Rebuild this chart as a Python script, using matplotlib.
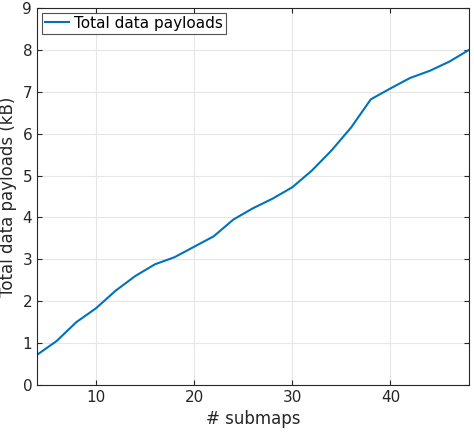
import matplotlib.pyplot as plt

submaps = [4, 6, 8, 10, 12, 14, 16, 18, 20, 22, 24, 26, 28, 30, 32, 34, 36, 38, 40, 42, 44, 46, 48]
payload_kb = [0.72, 1.05, 1.5, 1.83, 2.25, 2.6, 2.88, 3.05, 3.3, 3.55, 3.95, 4.22, 4.45, 4.72,
              5.12, 5.6, 6.15, 6.82, 7.08, 7.33, 7.5, 7.72, 8.0]

fig = plt.figure(figsize=(4.74, 4.38), dpi=100)
ax = fig.add_axes([37/474, 53/438, 432/474, 377/438])
ax.plot(submaps, payload_kb, color='#0072BD', linewidth=1.5, label='Total data payloads')
ax.set_xlim(4, 48)
ax.set_ylim(0, 9)
ax.set_xticks([10, 20, 30, 40])
ax.set_yticks(range(10))
ax.grid(True, color='#e6e6e6', linewidth=0.8)
ax.set_axisbelow(True)
ax.tick_params(direction='in', labelsize=11, colors='#262626', top=True, right=True)
for s in ax.spines.values():
    s.set_color('#262626')
ax.set_xlabel('# submaps', fontsize=12, color='#262626')
ax.set_ylabel('Total data payloads (kB)', fontsize=12, color='#262626')
leg = ax.legend(loc='upper left', fontsize=11, fancybox=False, edgecolor='#262626',
                borderaxespad=0.3, borderpad=0.2, handlelength=1.6, handletextpad=0.3)
leg.get_frame().set_linewidth(0.8)
fig.savefig('out.png', dpi=100)
